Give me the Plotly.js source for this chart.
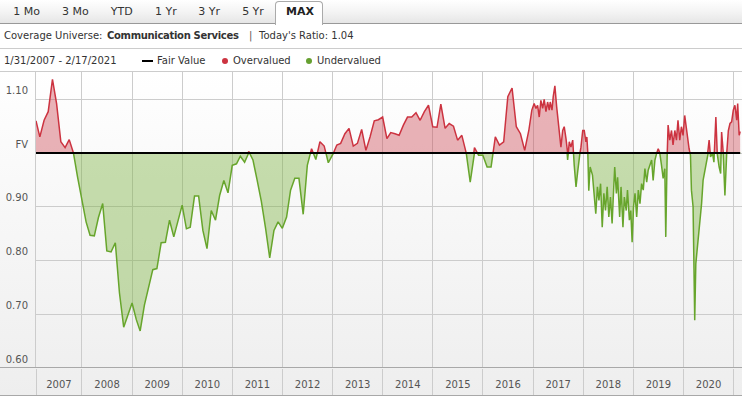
<!DOCTYPE html>
<html><head><meta charset="utf-8">
<script src="https://cdn.plot.ly/plotly-3.0.1.min.js"></script>
<style>
html,body{margin:0;padding:0;background:#fff;}
#wrap{position:relative;width:748px;height:397px;overflow:hidden;font-family:"DejaVu Sans",Verdana,sans-serif;color:#333;}
.abs{position:absolute;white-space:nowrap;}
#bg{position:absolute;left:0;top:71px;width:742px;height:324px;background:linear-gradient(to bottom,#ffffff 0%,#f7f7f7 45%,#eeeeee 100%);z-index:0;}
#chart{position:absolute;left:0;top:0;width:748px;height:397px;z-index:1;}
#tabbar{position:absolute;left:0;top:0;width:742px;height:23px;background:linear-gradient(to bottom,#ffffff 0%,#f4f4f4 50%,#e6e6e6 100%);border-bottom:1px solid #999;z-index:2;}
.tab{position:absolute;top:5px;font-size:11px;line-height:13px;color:#333;transform:translateX(-50%);}
#maxtab{position:absolute;left:275px;top:1px;width:46px;height:23px;background:#fff;border:1px solid #aaa;border-bottom:none;border-radius:4px 4px 0 0;z-index:3;}
.row{font-size:10px;line-height:12px;color:#333;z-index:3;}
.hl{position:absolute;left:0;width:742px;height:1px;z-index:4;}
.dot{position:absolute;width:6px;height:6px;border-radius:50%;z-index:3;}
</style></head><body>
<div id="wrap">
  <div id="bg"></div>
  <div id="chart"></div>
  <div id="tabbar"></div>
  <div id="maxtab"></div>
  <div class="tab" style="left:26.7px;z-index:4">1 Mo</div>
  <div class="tab" style="left:75.3px;z-index:4">3 Mo</div>
  <div class="tab" style="left:121.7px;z-index:4">YTD</div>
  <div class="tab" style="left:165.8px;z-index:4">1 Yr</div>
  <div class="tab" style="left:209.2px;z-index:4">3 Yr</div>
  <div class="tab" style="left:253px;z-index:4">5 Yr</div>
  <div class="tab" style="left:300px;z-index:4;font-weight:bold;color:#222">MAX</div>

  <div class="abs row" style="left:4px;top:29.5px">Coverage Universe:</div>
  <div class="abs row" style="left:107px;top:29.5px;font-weight:bold;color:#333;letter-spacing:-0.32px">Communication Services</div>
  <div class="abs row" style="left:249px;top:29.5px;color:#555">|</div>
  <div class="abs row" style="left:259px;top:29.5px">Today's Ratio: 1.04</div>

  <div class="abs row" style="left:4px;top:54.5px">1/31/2007 - 2/17/2021</div>
  <div class="abs" style="left:142px;top:60px;width:11px;height:2px;background:#000;z-index:3"></div>
  <div class="abs row" style="left:157px;top:54.5px">Fair Value</div>
  <div class="dot" style="left:221.5px;top:58px;background:#cc3340"></div>
  <div class="abs row" style="left:233px;top:54.5px">Overvalued</div>
  <div class="dot" style="left:305.5px;top:58px;background:#66a030"></div>
  <div class="abs row" style="left:317px;top:54.5px">Undervalued</div>

  <div class="hl" style="top:48px;background:#cccccc"></div>
  <div class="hl" style="top:71px;background:#cccccc"></div>
  <div class="hl" style="top:367px;background:#a8a8a8"></div>
  <div class="hl" style="top:395px;background:#a8a8a8"></div>
</div>
<script>
// ---- Data ----
const fairValue = 1.0;

// Monthly price / fair value ratios (month labels, plotted at month end)
const monthlyMonths = [
 '2007-01','2007-02','2007-03','2007-04','2007-05','2007-06','2007-07','2007-08','2007-09','2007-10','2007-11','2007-12',
 '2008-01','2008-02','2008-03','2008-04','2008-05','2008-06','2008-07','2008-08','2008-09','2008-10','2008-11','2008-12',
 '2009-01','2009-02','2009-03','2009-04','2009-05','2009-06','2009-07','2009-08','2009-09','2009-10','2009-11','2009-12',
 '2010-01','2010-02','2010-03','2010-04','2010-05','2010-06','2010-07','2010-08','2010-09','2010-10','2010-11','2010-12',
 '2011-01','2011-02','2011-03','2011-04','2011-05','2011-06','2011-07','2011-08','2011-09','2011-10','2011-11','2011-12',
 '2012-01','2012-02','2012-03','2012-04','2012-05','2012-06','2012-07','2012-08','2012-09','2012-10','2012-11','2012-12',
 '2013-01','2013-02','2013-03','2013-04','2013-05','2013-06','2013-07','2013-08','2013-09','2013-10','2013-11','2013-12',
 '2014-01','2014-02','2014-03','2014-04','2014-05','2014-06','2014-07','2014-08','2014-09','2014-10','2014-11','2014-12',
 '2015-01','2015-02','2015-03','2015-04','2015-05','2015-06','2015-07','2015-08','2015-09','2015-10','2015-11','2015-12',
 '2016-01','2016-02','2016-03','2016-04','2016-05','2016-06','2016-07','2016-08','2016-09','2016-10','2016-11'
];
const monthlyRatio = [
 1.060,1.030,1.061,1.077,1.137,1.092,1.021,1.010,1.025,1.000,0.955,0.915,
 0.872,0.847,0.846,0.880,0.906,0.818,0.816,0.833,0.740,0.676,0.700,0.721,
 0.690,0.669,0.717,0.752,0.783,0.785,0.833,0.834,0.875,0.844,0.875,0.903,
 0.859,0.862,0.920,0.920,0.856,0.822,0.893,0.875,0.921,0.949,0.926,0.977,
 0.980,0.994,0.983,1.003,0.987,0.950,0.910,0.860,0.805,0.856,0.872,0.860,
 0.881,0.931,0.953,0.953,0.886,0.977,1.008,0.988,1.021,1.013,0.982,0.996,
 1.015,1.018,1.036,1.046,1.013,1.018,1.044,1.005,1.030,1.060,1.062,1.067,
 1.027,1.038,1.036,1.033,1.052,1.067,1.067,1.075,1.061,1.077,1.089,1.049,
 1.048,1.091,1.046,1.055,1.050,1.024,1.033,1.002,0.946,1.010,0.996,0.996,
 0.974,0.974,1.030,1.015,1.021,1.105,1.121,1.049,1.036,1.005,1.042
];

// Denser readings from Dec 2016 onward
const denseDates = [
 '2016-12-22','2017-01-08','2017-01-21','2017-02-02','2017-02-14','2017-02-26','2017-03-11','2017-03-22','2017-04-04','2017-04-16',
 '2017-04-28','2017-05-05','2017-05-18','2017-05-27','2017-06-08','2017-06-21','2017-07-05','2017-07-22','2017-08-04','2017-08-15',
 '2017-08-28','2017-09-09','2017-09-21','2017-10-03','2017-10-16','2017-10-27','2017-11-09','2017-11-21','2017-12-03','2017-12-15',
 '2017-12-28','2018-01-08','2018-01-20','2018-01-27','2018-02-03','2018-02-10','2018-02-20','2018-03-09','2018-03-20','2018-04-02',
 '2018-04-14','2018-04-25','2018-05-07','2018-05-19','2018-05-31','2018-06-12','2018-06-24','2018-07-06','2018-07-18','2018-07-30',
 '2018-08-11','2018-08-18','2018-08-30','2018-09-08','2018-09-23','2018-10-03','2018-10-17','2018-10-27','2018-11-10','2018-11-19',
 '2018-12-03','2018-12-13','2018-12-23','2019-01-02','2019-01-13','2019-01-25','2019-02-06','2019-02-18','2019-03-02','2019-03-14',
 '2019-03-26','2019-04-08','2019-04-19','2019-05-02','2019-05-14','2019-05-25','2019-06-07','2019-06-19','2019-07-01','2019-07-13',
 '2019-07-25','2019-08-06','2019-08-18','2019-08-25','2019-09-04','2019-09-11','2019-09-23','2019-10-06','2019-10-17','2019-10-30',
 '2019-11-11','2019-11-22','2019-12-05','2019-12-17','2019-12-29','2020-01-10','2020-01-23','2020-02-03','2020-02-11','2020-02-21',
 '2020-02-28','2020-03-11','2020-03-18','2020-03-23','2020-03-31','2020-04-09','2020-04-24','2020-05-04','2020-05-12','2020-05-23',
 '2020-06-05','2020-06-17','2020-06-29','2020-07-06','2020-07-16','2020-07-31','2020-08-10','2020-08-24','2020-09-03','2020-09-17',
 '2020-09-28','2020-10-05','2020-10-17','2020-10-29','2020-11-11','2020-11-23','2020-12-05','2020-12-17','2020-12-29','2021-01-10',
 '2021-01-23','2021-01-30','2021-02-10','2021-02-17'
];
const denseRatio = [
 1.080,1.092,1.083,1.089,1.067,1.098,1.083,1.100,1.077,1.095,
 1.080,1.095,1.080,1.105,1.125,1.086,1.046,1.011,1.042,1.049,
 1.027,0.987,1.021,1.011,1.024,0.977,0.937,0.965,0.993,1.011,
 1.042,1.042,1.021,1.030,1.000,0.930,0.974,0.959,0.931,0.887,
 0.937,0.912,0.943,0.862,0.925,0.893,0.937,0.881,0.918,0.869,
 0.937,0.974,0.925,0.955,0.881,0.937,0.862,0.918,0.893,0.931,
 0.875,0.893,0.834,0.900,0.925,0.881,0.931,0.906,0.943,0.931,
 0.971,0.946,0.968,0.977,0.987,0.949,0.987,0.999,1.008,0.999,
 0.977,0.953,0.971,0.844,0.993,1.052,1.024,1.042,1.015,1.042,
 1.024,1.061,1.024,1.049,1.033,1.070,1.042,1.024,1.008,0.996,
 0.931,0.900,0.726,0.689,0.794,0.819,0.856,0.881,0.906,0.949,
 0.968,0.983,1.008,1.024,0.993,0.999,0.983,1.067,0.999,0.974,
 0.962,1.039,0.996,0.921,0.999,1.042,1.055,1.058,1.080,1.089,
 1.061,1.092,1.033,1.040
];

// Axis ticks
const yTickVals = [0.6, 0.7, 0.8, 0.9, 1.0, 1.1];
const yTickText = ['0.60', '0.70', '0.80', '0.90', 'FV', '1.10'];
const yearBoundaries = ['2007-01-31','2008-01-01','2009-01-01','2010-01-01','2011-01-01','2012-01-01','2013-01-01',
  '2014-01-01','2015-01-01','2016-01-01','2017-01-01','2018-01-01','2019-01-01','2020-01-01','2021-01-01'];
const yearLabelPos = ['2007-07-17','2008-07-02','2009-07-02','2010-07-02','2011-07-02','2012-07-02','2013-07-02',
  '2014-07-02','2015-07-02','2016-07-02','2017-07-02','2018-07-02','2019-07-02','2020-07-02'];
const yearLabels = ['2007','2008','2009','2010','2011','2012','2013','2014','2015','2016','2017','2018','2019','2020'];
const xRange = ['2007-01-31', '2021-03-02 12:00'];

// ---- Build series ----
function monthEnd(m){ const y=+m.slice(0,4), mo=+m.slice(5,7); return Date.UTC(y, mo, 0); }
const ms = monthlyMonths.map(monthEnd).concat(denseDates.map(d => Date.parse(d + 'T00:00:00Z')));
const vals = monthlyRatio.concat(denseRatio);
const iso = t => new Date(t).toISOString().slice(0,19).replace('T',' ');

const overX=[], overY=[], underX=[], underY=[];
for (let i=0;i<vals.length;i++){
  const t0=ms[i], v0=vals[i];
  overX.push(iso(t0)); overY.push(Math.max(v0, fairValue));
  underX.push(iso(t0)); underY.push(Math.min(v0, fairValue));
  if (i < vals.length-1){
    const t1=ms[i+1], v1=vals[i+1];
    if ((v0-fairValue)*(v1-fairValue) < 0){
      const tc = t0 + (fairValue-v0)/(v1-v0)*(t1-t0);
      overX.push(iso(tc)); overY.push(fairValue);
      underX.push(iso(tc)); underY.push(fairValue);
    }
  }
}
const fvX = [iso(ms[0]), iso(ms[ms.length-1])];
const fvY = [fairValue, fairValue];

const traces = [
  {x: fvX, y: fvY, mode:'lines', line:{width:0, color:'rgba(0,0,0,0)'}, hoverinfo:'skip', showlegend:false},
  {x: overX, y: overY, mode:'lines', fill:'tonexty', fillcolor:'rgba(205,75,85,0.42)',
   line:{color:'#cc3340', width:1.5}, name:'Overvalued', showlegend:false},
  {x: fvX, y: fvY, mode:'lines', line:{width:0, color:'rgba(0,0,0,0)'}, hoverinfo:'skip', showlegend:false},
  {x: underX, y: underY, mode:'lines', fill:'tonexty', fillcolor:'rgba(125,178,65,0.42)',
   line:{color:'#67a52c', width:1.5}, name:'Undervalued', showlegend:false},
  {x: fvX, y: fvY, mode:'lines', line:{color:'#000000', width:2}, name:'Fair Value', showlegend:false},
  {x: [], y: [], xaxis:'x2', mode:'lines', showlegend:false, hoverinfo:'skip'}
];

const tickFont = {family:'DejaVu Sans, Verdana, sans-serif', size:10, color:'#555555'};
const layout = {
  width:748, height:397,
  margin:{l:36, r:6, t:71, b:29, pad:0},
  paper_bgcolor:'rgba(0,0,0,0)', plot_bgcolor:'rgba(0,0,0,0)',
  showlegend:false,
  font:{family:'DejaVu Sans, Verdana, sans-serif', size:10, color:'#555555'},
  xaxis:{type:'date', range:xRange, autorange:false, tickmode:'array', tickvals:yearBoundaries,
    showticklabels:false, ticks:'outside', ticklen:27, tickwidth:1, tickcolor:'#cccccc',
    showgrid:true, gridcolor:'#cccccc', gridwidth:1, zeroline:false, showline:false, fixedrange:true},
  xaxis2:{type:'date', range:xRange, autorange:false, overlaying:'x', anchor:'y', side:'bottom',
    tickmode:'array', tickvals:yearLabelPos, ticktext:yearLabels, tickfont:tickFont,
    ticks:'outside', ticklen:7, tickcolor:'rgba(0,0,0,0)', showgrid:false, zeroline:false, showline:false, fixedrange:true},
  yaxis:{range:[0.6, 1.1527], autorange:false, tickmode:'array', tickvals:yTickVals, ticktext:yTickText,
    tickfont:tickFont, ticks:'outside', ticklen:5, tickcolor:'rgba(0,0,0,0)', ticklabelshift:-9,
    showgrid:true, gridcolor:'#cccccc', gridwidth:1, zeroline:false, showline:true, linecolor:'#cccccc', linewidth:1, fixedrange:true}
};
Plotly.newPlot('chart', traces, layout, {staticPlot:true, displayModeBar:false});
</script>
</body></html>
